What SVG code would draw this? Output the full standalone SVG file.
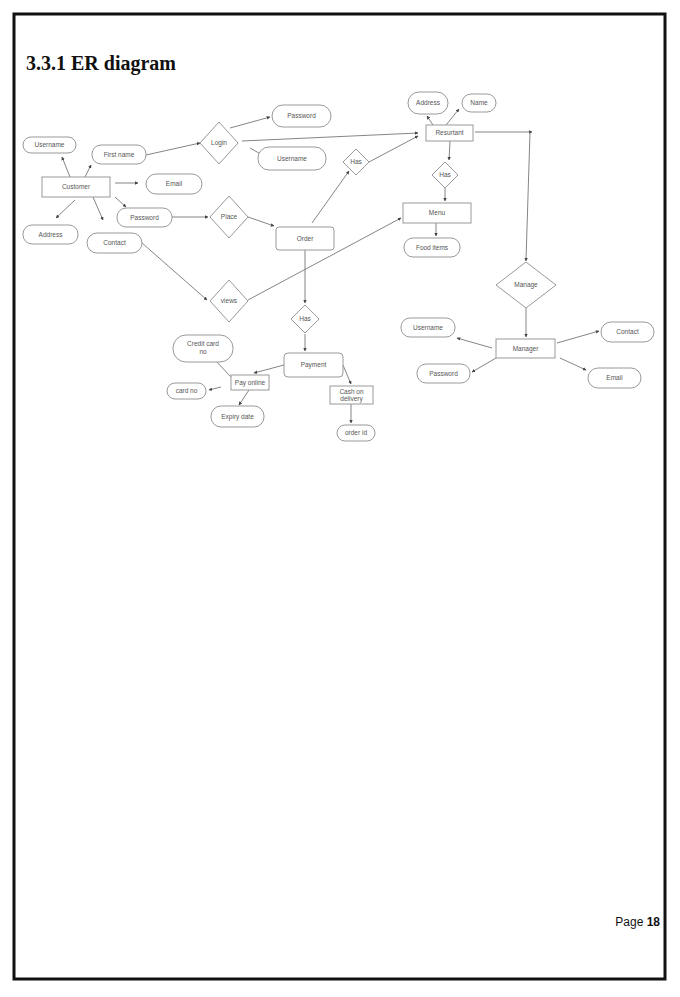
<svg xmlns="http://www.w3.org/2000/svg" width="680" height="997" viewBox="0 0 680 997">
<style>
.n rect,.n polygon{fill:#fff;stroke:#999;stroke-width:1}
.n text{font-family:"Liberation Sans",Arial,sans-serif;font-size:6.5px;fill:#555;text-anchor:middle}
#edges line,#edges polyline{stroke:#777;stroke-width:0.9;fill:none}
</style>
<defs><marker id="a" viewBox="0 0 10 10" refX="9" refY="5" markerWidth="4" markerHeight="4" orient="auto"><path d="M0,0L10,5L0,10z" fill="#444"/></marker></defs>
<rect x="0" y="0" width="680" height="997" fill="#fff"/>
<rect x="14" y="14" width="651" height="965" fill="none" stroke="#111" stroke-width="3"/>
<text x="26" y="70" font-family="Liberation Serif,serif" font-weight="bold" font-size="20" fill="#111">3.3.1 ER diagram</text>
<text x="660" y="926" font-family="Liberation Sans,sans-serif" font-size="12" fill="#111" text-anchor="end">Page <tspan font-weight="bold">18</tspan></text>
<g id="edges" marker-end="url(#a)">
<line x1="70" y1="177" x2="62" y2="157" marker-end="url(#a)"/>
<line x1="85" y1="177" x2="91" y2="165" marker-end="url(#a)"/>
<line x1="115" y1="183" x2="138" y2="183" marker-end="url(#a)"/>
<line x1="115" y1="197" x2="126" y2="207" marker-end="url(#a)"/>
<line x1="75" y1="200" x2="56" y2="218" marker-end="url(#a)"/>
<line x1="93" y1="197" x2="103" y2="220" marker-end="url(#a)"/>
<line x1="146" y1="155" x2="200" y2="143" marker-end="url(#a)"/>
<line x1="230" y1="128" x2="270" y2="117" marker-end="url(#a)"/>
<line x1="250" y1="148" x2="266" y2="157" marker-end="url(#a)"/>
<line x1="242" y1="141" x2="418" y2="133" marker-end="url(#a)"/>
<line x1="172" y1="217" x2="208" y2="217" marker-end="url(#a)"/>
<line x1="248" y1="217" x2="274" y2="226" marker-end="url(#a)"/>
<line x1="312" y1="223" x2="349" y2="171" marker-end="url(#a)"/>
<line x1="369" y1="162" x2="418" y2="136" marker-end="url(#a)"/>
<line x1="142" y1="243" x2="207" y2="300" marker-end="url(#a)"/>
<line x1="248" y1="300" x2="401" y2="218" marker-end="url(#a)"/>
<line x1="305" y1="250" x2="305" y2="303" marker-end="url(#a)"/>
<line x1="305" y1="334" x2="305" y2="351" marker-end="url(#a)"/>
<line x1="284" y1="365" x2="254" y2="373" marker-end="url(#a)"/>
<line x1="343" y1="365" x2="351" y2="384" marker-end="url(#a)"/>
<line x1="231" y1="377" x2="214" y2="359" marker-end="url(#a)"/>
<line x1="221" y1="387" x2="209" y2="390" marker-end="url(#a)"/>
<line x1="249" y1="390" x2="239" y2="405" marker-end="url(#a)"/>
<line x1="351" y1="404" x2="351" y2="423" marker-end="url(#a)"/>
<line x1="433" y1="125" x2="427" y2="116" marker-end="url(#a)"/>
<line x1="446" y1="125" x2="459" y2="109" marker-end="url(#a)"/>
<line x1="450" y1="141" x2="449" y2="160" marker-end="url(#a)"/>
<line x1="445" y1="188" x2="445" y2="201" marker-end="url(#a)"/>
<line x1="436" y1="223" x2="436" y2="236" marker-end="url(#a)"/>
<line x1="475" y1="132" x2="532" y2="132" marker-end="url(#a)"/>
<line x1="530" y1="132" x2="526" y2="261" marker-end="url(#a)"/>
<line x1="526" y1="308" x2="526" y2="337" marker-end="url(#a)"/>
<line x1="492" y1="348" x2="457" y2="338" marker-end="url(#a)"/>
<line x1="496" y1="358" x2="472" y2="372" marker-end="url(#a)"/>
<line x1="557" y1="343" x2="599" y2="331" marker-end="url(#a)"/>
<line x1="560" y1="358" x2="586" y2="370" marker-end="url(#a)"/>
</g>
<g id="customer" class="n"><rect x="42" y="177" width="68" height="20"/><text x="76" y="189">Customer</text></g>
<g id="cust-username" class="n"><rect x="23" y="137" width="53" height="16" rx="8"/><text x="49.5" y="147">Username</text></g>
<g id="firstname" class="n"><rect x="92" y="145" width="54" height="19" rx="9"/><text x="119" y="156.5">First name</text></g>
<g id="cust-email" class="n"><rect x="146" y="174" width="56" height="20" rx="10"/><text x="174" y="186">Email</text></g>
<g id="cust-password" class="n"><rect x="117" y="208" width="55" height="19" rx="9"/><text x="144.5" y="219.5">Password</text></g>
<g id="cust-address" class="n"><rect x="23" y="225" width="55" height="19" rx="9"/><text x="50.5" y="236.5">Address</text></g>
<g id="cust-contact" class="n"><rect x="87" y="233" width="55" height="20" rx="10"/><text x="114.5" y="245">Contact</text></g>
<g id="login" class="n"><polygon points="219,122 238,143 219,164 200,143"/><text x="219" y="145">Login</text></g>
<g id="login-password" class="n"><rect x="272" y="105" width="59" height="22" rx="11"/><text x="301.5" y="118">Password</text></g>
<g id="login-username" class="n"><rect x="258" y="147" width="68" height="23" rx="11"/><text x="292" y="160.5">Username</text></g>
<g id="place" class="n"><polygon points="229,196 248,217 229,238 210,217"/><text x="229" y="219">Place</text></g>
<g id="order" class="n"><rect x="276" y="227" width="58" height="23" rx="3"/><text x="305" y="240.5">Order</text></g>
<g id="views" class="n"><polygon points="229,280 248,301 229,322 210,301"/><text x="229" y="303">views</text></g>
<g id="has-order" class="n"><polygon points="305,305 319,319 305,333 291,319"/><text x="305" y="321">Has</text></g>
<g id="has-rest" class="n"><polygon points="356,149 369,162 356,175 343,162"/><text x="356" y="164">Has</text></g>
<g id="restaurant" class="n"><rect x="426" y="125" width="47" height="16"/><text x="449.5" y="135">Resurtant</text></g>
<g id="rest-address" class="n"><rect x="408" y="92" width="40" height="22" rx="11"/><text x="428" y="105">Address</text></g>
<g id="rest-name" class="n"><rect x="462" y="94" width="34" height="18" rx="9"/><text x="479" y="105">Name</text></g>
<g id="has-menu" class="n"><polygon points="445,162 458,175 445,188 432,175"/><text x="445" y="177">Has</text></g>
<g id="menu" class="n"><rect x="403" y="203" width="68" height="20"/><text x="437" y="215">Menu</text></g>
<g id="food" class="n"><rect x="404" y="238" width="56" height="19" rx="9"/><text x="432" y="249.5">Food items</text></g>
<g id="manage" class="n"><polygon points="526,262 556,285 526,308 496,285"/><text x="526" y="287">Manage</text></g>
<g id="manager" class="n"><rect x="496" y="339" width="59" height="19"/><text x="525.5" y="350.5">Manager</text></g>
<g id="mgr-username" class="n"><rect x="401" y="318" width="54" height="19" rx="9"/><text x="428" y="329.5">Username</text></g>
<g id="mgr-contact" class="n"><rect x="601" y="322" width="53" height="20" rx="10"/><text x="627.5" y="334">Contact</text></g>
<g id="mgr-password" class="n"><rect x="417" y="364" width="53" height="19" rx="9"/><text x="443.5" y="375.5">Password</text></g>
<g id="mgr-email" class="n"><rect x="588" y="368" width="53" height="20" rx="10"/><text x="614.5" y="380">Email</text></g>
<g id="payment" class="n"><rect x="284" y="353" width="59" height="24" rx="4"/><text x="313.5" y="367">Payment</text></g>
<g id="payonline" class="n"><rect x="231" y="375" width="38" height="15"/><text x="250" y="384.5">Pay online</text></g>
<g id="creditcard" class="n"><rect x="173" y="335" width="60" height="27" rx="13"/><text x="203" y="346">Credit card</text><text x="203" y="354">no</text></g>
<g id="cardno" class="n"><rect x="167" y="383" width="39" height="16" rx="8"/><text x="186.5" y="393">card no</text></g>
<g id="expiry" class="n"><rect x="211" y="406" width="53" height="21" rx="10"/><text x="237.5" y="418.5">Expiry date</text></g>
<g id="cash" class="n"><rect x="330" y="386" width="43" height="18"/><text x="351.5" y="393.5">Cash on</text><text x="351.5" y="401">delivery</text></g>
<g id="orderid" class="n"><rect x="337" y="425" width="38" height="16" rx="8"/><text x="356" y="435">order id</text></g>
</svg>
